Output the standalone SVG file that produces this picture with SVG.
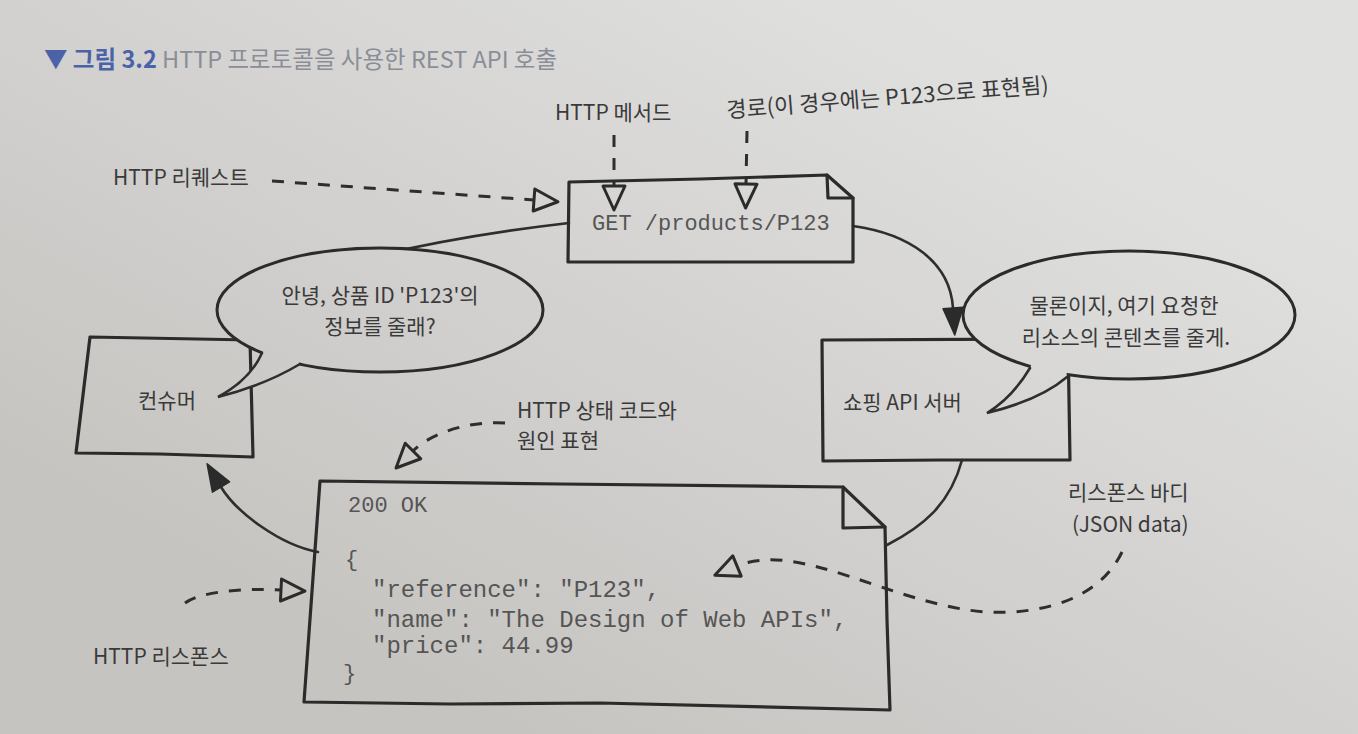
<svg xmlns="http://www.w3.org/2000/svg" width="1358" height="734" viewBox="0 0 1358 734">
  <defs>
    <linearGradient id="bg" gradientUnits="userSpaceOnUse" x1="900" y1="0" x2="500" y2="734">
      <stop offset="0" stop-color="#e0e0df"/>
      <stop offset="0.5" stop-color="#d3d2d0"/>
      <stop offset="1" stop-color="#c6c4c1"/>
    </linearGradient>
    <marker id="open" markerUnits="userSpaceOnUse" markerWidth="30" markerHeight="30" refX="1" refY="12" orient="auto" overflow="visible">
      <path d="M1,1 L25,12 L1,23 Z" fill="none" stroke="#2b2b2b" stroke-width="3" stroke-linejoin="round"/>
    </marker>
    <marker id="solid" markerUnits="userSpaceOnUse" markerWidth="30" markerHeight="30" refX="1" refY="11" orient="auto" overflow="visible">
      <path d="M1,1 L28,11 L1,21 Z" fill="#2b2b2b" stroke="#2b2b2b" stroke-width="1.5" stroke-linejoin="round"/>
    </marker>
    <style>
      .shape { fill: none; stroke: #2b2b2b; stroke-width: 3.2; stroke-linejoin: round; stroke-linecap: round; }
      .bubble { fill: url(#bg); stroke: #2b2b2b; stroke-width: 3; }
      .line { fill: none; stroke: #2e2e2e; stroke-width: 2.6; stroke-linecap: round; }
      .dash { fill: none; stroke: #2e2e2e; stroke-width: 3; stroke-dasharray: 12 11; stroke-linecap: butt; }
      .lbl { font-family: "Noto Sans CJK KR", "Noto Sans", sans-serif; font-size: 21px; fill: #3a3a3a; }
      .mono { font-family: "Liberation Mono", "DejaVu Sans Mono", monospace; font-size: 22px; fill: #555555; }
      .json { font-size: 24px; }
      .path-lbl { font-size: 22px; }
      .title { font-family: "Noto Sans CJK KR", "Noto Sans", sans-serif; font-size: 23.5px; }
    </style>
  </defs>

  <rect x="0" y="0" width="1358" height="734" fill="url(#bg)"/>

  <g id="title">
    <text class="title" x="44" y="68"><tspan fill="#4a63a8" font-weight="bold">▼ 그림 3.2</tspan><tspan fill="#8a8e97"> HTTP 프로토콜을 사용한 REST API 호출</tspan></text>
  </g>

  <g id="connectors">
    <!-- solid flow -->
    <path class="line" d="M300,276 Q420,240 569,223"/>
    <path class="line" d="M853,226 C910,234 950,262 953,308" marker-end="url(#solid)"/>
    <path class="line" d="M962,460 C950,505 922,527 887,545"/>
    <path class="line" d="M318,552 C280,545 236,512 221,487" marker-end="url(#solid)"/>
    <!-- dashed annotations -->
    <path class="dash" d="M272,181 L534,200" marker-end="url(#open)"/>
    <path class="dash" d="M614,135 L614,186" marker-end="url(#open)"/>
    <path class="dash" d="M747,131 L746,184" marker-end="url(#open)"/>
    <path class="dash" d="M505,423 C470,421 432,432 413,451" marker-end="url(#open)"/>
    <path class="dash" d="M185,603 C200,592 240,588 281,590" marker-end="url(#open)"/>
    <path class="dash" d="M1122,552 C1100,598 1045,615 985,612 C890,604 800,540 737,566" marker-end="url(#open)"/>
  </g>

  <g id="request">
    <path class="shape" d="M569,182 L700,179 L827,175 L853,198 L853,262 L700,262 L568,262 Z"/>
    <path class="shape" d="M827,175 L828,198 L853,198"/>
    <text class="mono" x="592" y="230">GET /products/P123</text>
  </g>

  <g id="consumer">
    <path class="shape" d="M90,337 L250,340 L253,457 L160,454 L76,453 Z"/>
    <text class="lbl" x="138" y="408">컨슈머</text>
  </g>

  <g id="consumer-bubble">
    <ellipse class="bubble" cx="380" cy="310" rx="163" ry="62"/>
    <path d="M262,353 Q250,380 218,397 Q265,385 300,364 L292,350 L268,343 Z" fill="url(#bg)"/>
    <path class="line" stroke-width="3" d="M262,353 Q250,380 218,397 Q265,385 300,364"/>
    <text class="lbl" x="380" y="303" text-anchor="middle">안녕, 상품 ID 'P123'의</text>
    <text class="lbl" x="380" y="334" text-anchor="middle">정보를 줄래?</text>
  </g>

  <g id="server">
    <path class="shape" d="M822,340 L1068,339 L1070,460 L940,460 L823,461 Z"/>
    <text class="lbl" x="843" y="410">쇼핑 API 서버</text>
  </g>

  <g id="server-bubble">
    <ellipse class="bubble" cx="1129" cy="315" rx="166" ry="64"/>
    <path d="M1030,368 Q1012,398 987,413 Q1040,400 1067,377 L1065,360 L1035,355 Z" fill="url(#bg)"/>
    <path class="line" stroke-width="3" d="M1030,368 Q1012,398 987,413 Q1040,400 1067,377"/>
    <text class="lbl" x="1124" y="313" text-anchor="middle">물론이지, 여기 요청한</text>
    <text class="lbl" x="1126" y="345" text-anchor="middle">리소스의 콘텐츠를 줄게.</text>
  </g>

  <g id="response">
    <path class="shape" d="M320,481 L560,484 L843,487 L885,527 L887,620 L890,710 L600,703 L450,704 L304,702 Z"/>
    <path class="shape" d="M843,487 L843,528 L885,527"/>
    <text class="mono" x="348" y="512">200 OK</text>
    <text class="mono" x="345" y="566">{</text>
    <text class="mono json" x="372" y="597">"reference": "P123",</text>
    <text class="mono json" x="372" y="627">"name": "The Design of Web APIs",</text>
    <text class="mono json" x="372" y="653">"price": 44.99</text>
    <text class="mono" x="343" y="680">}</text>
  </g>

  <g id="labels">
    <text class="lbl" x="555" y="120">HTTP 메서드</text>
    <text class="lbl path-lbl" x="727" y="118" transform="rotate(-4.5 727 118)">경로(이 경우에는 P123으로 표현됨)</text>
    <text class="lbl" x="113" y="185">HTTP 리퀘스트</text>
    <text class="lbl" x="517" y="418">HTTP 상태 코드와</text>
    <text class="lbl" x="517" y="448">원인 표현</text>
    <text class="lbl" x="93" y="664">HTTP 리스폰스</text>
    <text class="lbl" x="1068" y="500">리스폰스 바디</text>
    <text class="lbl" x="1072" y="532">(JSON data)</text>
  </g>
</svg>
